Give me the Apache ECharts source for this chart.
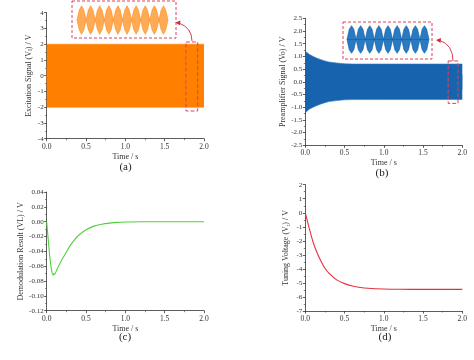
<!DOCTYPE html>
<html><head><meta charset="utf-8">
<script src="https://cdn.jsdelivr.net/npm/echarts@6/dist/echarts.min.js"></script>
<style>html,body{margin:0;padding:0;background:#fff}#c{width:474px;height:360px}</style>
</head><body><div id="c"></div>
<script>
// ---- data ----
const excitationTime  = [0, 2.0];
const excitationUpper = [2, 2];
const excitationLower = [-2, -2];

const preampTime  = [0, 0.02, 0.05, 0.1, 0.15, 0.2, 0.25, 0.3, 0.4, 0.5, 0.6, 0.8, 1.0, 1.5, 2.0];
const preampUpper = [1.2, 1.15, 1.08, 1.0, 0.93, 0.87, 0.82, 0.78, 0.74, 0.71, 0.7, 0.7, 0.7, 0.7, 0.7];
const preampLower = [-1.22, -1.16, -1.08, -1.0, -0.93, -0.87, -0.82, -0.78, -0.74, -0.71, -0.7, -0.7, -0.7, -0.7, -0.7];

const demodTime   = [0, 0.02, 0.04, 0.06, 0.08, 0.09, 0.1, 0.12, 0.15, 0.2, 0.25, 0.3, 0.35, 0.4, 0.5, 0.6, 0.7, 0.8, 0.9, 1.0, 1.2, 1.5, 2.0];
const demodValues = [0, -0.025, -0.048, -0.064, -0.072, -0.070, -0.071, -0.067, -0.060, -0.050, -0.041, -0.032, -0.025, -0.019, -0.011, -0.006, -0.0035, -0.002, -0.001, -0.0005, 0, 0, 0];

const tuningTime   = [0, 0.02, 0.05, 0.1, 0.15, 0.2, 0.25, 0.3, 0.4, 0.5, 0.6, 0.7, 0.8, 1.0, 1.2, 1.5, 2.0];
const tuningValues = [0, -0.45, -1.1, -2.1, -2.85, -3.45, -3.95, -4.3, -4.78, -5.05, -5.22, -5.32, -5.38, -5.43, -5.45, -5.46, -5.46];

// inset envelopes (zoomed-in waveform lobes)
const insetAEnvelope = [0,0.7,1,0.7,0, 0.7,1,0.7,0, 0.7,1,0.7,0, 0.7,1,0.7,0, 0.7,1,0.7,0,
                        0.7,1,0.7,0, 0.7,1,0.7,0, 0.7,1,0.7,0, 0.7,1,0.7,0, 0.7,1,0.7,0];
const insetBEnvelope = [0,0.75,1,0.75,0, 0.75,1,0.75,0, 0.75,1,0.75,0, 0.75,1,0.75,0, 0.75,1,0.75,0,
                        0.75,1,0.75,0, 0.75,1,0.75,0, 0.75,1,0.75,0, 0.75,1,0.75,0];

// zoom-window boxes on the main plots [t0, v0, t1, v1]
const zoomBoxA = [1.77, 2.14, 1.92, -2.24];
const zoomBoxB = [1.82, 0.82, 1.945, -0.85];

const xTickLabels = ['0.0', '0.5', '1.0', '1.5', '2.0'];
const yNames = ['Excitation Signal (V{s|I}) / V', 'Preamplifier Signal (Vo) / V', 'Demodulation Result (VL) / V', 'Tuning Voltage (V{s|t}) / V'];
const panelLetters = ['(a)', '(b)', '(c)', '(d)'];

// ---- styles ----
const FONT = 'Liberation Serif';
const AX = '#333';
const ORANGE = '#ff8000', BLUE = '#1763ad', GREEN = '#4fd13b', RED = '#e8303c', DASH = '#e0405a';

function pairs(xs, ys) { return xs.map((x, i) => [x, ys[i]]); }
function idxPairs(ys, sign) { return ys.map((v, i) => [i, sign * v]); }

const grids = [
  {left: 46.7, top: 12.7, width: 157.3, height: 126},
  {left: 305.3, top: 18.3, width: 157, height: 127},
  {left: 46.7, top: 192, width: 157.3, height: 118.7},
  {left: 305.3, top: 184.7, width: 157, height: 126.3},
  {left: 77, top: 5, width: 91, height: 30},
  {left: 347, top: 25, width: 82, height: 29}
];

function mainX(gi) {
  return {
    type: 'value', gridIndex: gi, min: 0, max: 2, interval: 0.5,
    name: 'Time / s', nameLocation: 'middle', nameGap: 14,
    nameTextStyle: {fontFamily: FONT, fontSize: 8, color: AX},
    axisLine: {show: true, onZero: false, lineStyle: {color: AX, width: 0.8}},
    axisTick: {show: true, length: 2.5, lineStyle: {color: AX, width: 0.8}},
    minorTick: {show: true, splitNumber: 2, length: 1.5, lineStyle: {color: AX, width: 0.6}},
    axisLabel: {fontFamily: FONT, fontSize: 7.5, color: AX, margin: 4,
      formatter: v => xTickLabels[Math.round(v / 0.5)]},
    splitLine: {show: false}
  };
}
function mainY(gi, min, max, interval, dec, name, gap) {
  return {
    type: 'value', gridIndex: gi, min: min, max: max, interval: interval,
    name: name, nameLocation: 'middle', nameGap: gap,
    nameTextStyle: {fontFamily: FONT, fontSize: 8, color: AX,
      rich: {s: {fontFamily: FONT, fontSize: 5.5, color: AX, padding: [4, 0, 0, 0]}}},
    axisLine: {show: true, onZero: false, lineStyle: {color: AX, width: 0.8}},
    axisTick: {show: true, length: 2.5, lineStyle: {color: AX, width: 0.8}},
    minorTick: {show: true, splitNumber: 2, length: 1.5, lineStyle: {color: AX, width: 0.6}},
    axisLabel: {fontFamily: FONT, fontSize: 7, color: AX, margin: 3,
      formatter: v => v.toFixed(dec)},
    splitLine: {show: false}
  };
}
function hiddenAxis(gi, min, max) {
  return {type: 'value', gridIndex: gi, min: min, max: max, show: false, splitLine: {show: false}};
}

function band(xi, data, color, lineColor, origin, extra) {
  return Object.assign({
    type: 'line', xAxisIndex: xi, yAxisIndex: xi, data: data, symbol: 'none', silent: true,
    lineStyle: {color: lineColor, width: 0.6}, areaStyle: {color: color, opacity: 1, origin: origin},
    animation: false
  }, extra || {});
}
function boxSeries(xi, b) {
  return {type: 'line', xAxisIndex: xi, yAxisIndex: xi, data: [], z: 8, silent: true,
    markArea: {silent: true, z: 8, itemStyle: {color: 'rgba(0,0,0,0)', borderColor: DASH, borderType: 'dashed', borderWidth: 1},
      data: [[{coord: [b[0], b[1]]}, {coord: [b[2], b[3]]}]]}};
}

const option = {
  backgroundColor: '#fff',
  animation: false,
  grid: grids,
  xAxis: [mainX(0), mainX(1), mainX(2), mainX(3), hiddenAxis(4, 0, insetAEnvelope.length - 1), hiddenAxis(5, 0, insetBEnvelope.length - 1)],
  yAxis: [
    mainY(0, -4, 4, 1, 0, yNames[0], 12),
    mainY(1, -2.5, 2.5, 0.5, 1, yNames[1], 16),
    mainY(2, -0.12, 0.04, 0.02, 2, yNames[2], 20),
    mainY(3, -7, 2, 1, 0, yNames[3], 14),
    hiddenAxis(4, -1.05, 1.05),
    hiddenAxis(5, -1.05, 1.05)
  ],
  series: [
    band(0, pairs(excitationTime, excitationLower), ORANGE, ORANGE, 0.5),
    band(0, pairs(excitationTime, excitationUpper), ORANGE, ORANGE, -0.5),
    band(1, pairs(preampTime, preampLower), BLUE, '#2b7cc4', 0.3),
    band(1, pairs(preampTime, preampUpper), BLUE, '#2b7cc4', -0.3),
    boxSeries(0, zoomBoxA),
    boxSeries(1, zoomBoxB),
    {type: 'line', xAxisIndex: 2, yAxisIndex: 2, data: pairs(demodTime, demodValues), symbol: 'none', smooth: 0.3,
      lineStyle: {color: GREEN, width: 1.1}, silent: true},
    {type: 'line', xAxisIndex: 3, yAxisIndex: 3, data: pairs(tuningTime, tuningValues), symbol: 'none', smooth: 0.3,
      lineStyle: {color: RED, width: 1.1}, silent: true},
    band(4, idxPairs(insetAEnvelope, 1), '#ffab55', '#ff8c1a', 0),
    band(4, idxPairs(insetAEnvelope, -1), '#ffab55', '#ff8c1a', 0),
    band(5, idxPairs(insetBEnvelope, 1), '#2a7ac2', '#0d5aa3', 0,
      {markLine: {silent: true, symbol: 'none', label: {show: false}, lineStyle: {color: '#0d5aa3', type: 'solid', width: 0.8}, data: [{yAxis: 0}]}}),
    band(5, idxPairs(insetBEnvelope, -1), '#2a7ac2', '#0d5aa3', 0)
  ],
  graphic: [
    {type: 'rect', shape: {x: 72, y: 1, width: 104, height: 37}, style: {fill: 'none', stroke: DASH, lineWidth: 1, lineDash: [3, 2]}, z: 10},
    {type: 'rect', shape: {x: 343, y: 22, width: 89, height: 37}, style: {fill: 'none', stroke: DASH, lineWidth: 1, lineDash: [3, 2]}, z: 10},
    {type: 'bezierCurve', shape: {x1: 192, y1: 41, x2: 179, y2: 23, cpx1: 192, cpy1: 28}, style: {fill: 'none', stroke: '#d0283c', lineWidth: 0.9}, z: 10},
    {type: 'polygon', shape: {points: [[175.5, 22.5], [180.5, 20.5], [179.8, 25.2]]}, style: {fill: '#d0283c'}, z: 10},
    {type: 'bezierCurve', shape: {x1: 453, y1: 61, x2: 440, y2: 40.5, cpx1: 453, cpy1: 45}, style: {fill: 'none', stroke: '#d0283c', lineWidth: 0.9}, z: 10},
    {type: 'polygon', shape: {points: [[436, 40], [441, 38], [440.5, 43]]}, style: {fill: '#d0283c'}, z: 10},
    {type: 'text', x: 125.5, y: 167, style: {text: panelLetters[0], font: '11px "Liberation Serif"', fill: '#222', textAlign: 'center', textVerticalAlign: 'middle'}},
    {type: 'text', x: 382, y: 173, style: {text: panelLetters[1], font: '11px "Liberation Serif"', fill: '#222', textAlign: 'center', textVerticalAlign: 'middle'}},
    {type: 'text', x: 125, y: 337, style: {text: panelLetters[2], font: '11px "Liberation Serif"', fill: '#222', textAlign: 'center', textVerticalAlign: 'middle'}},
    {type: 'text', x: 385, y: 337, style: {text: panelLetters[3], font: '11px "Liberation Serif"', fill: '#222', textAlign: 'center', textVerticalAlign: 'middle'}}
  ]
};
echarts.init(document.getElementById('c'), null, {renderer: 'canvas'}).setOption(option);
</script>
</body></html>
